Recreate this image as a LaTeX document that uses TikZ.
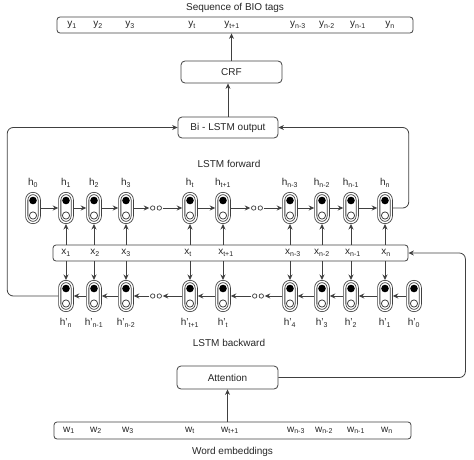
\documentclass[tikz,border=0pt]{standalone}
\usepackage{fontspec}
\setmainfont{Liberation Sans}
\usepackage{xcolor}
\usepackage{tikz}
\usetikzlibrary{positioning,arrows.meta}

\begin{document}
\begin{tikzpicture}[x=1pt, y=-1pt, font=\fontsize{10}{12}\selectfont, text=black!85,
  bar/.style={draw=black!75, line width=0.8pt, rounded corners=3pt, minimum height=16pt, inner sep=0pt},
  box/.style={draw=black!75, line width=0.8pt, rounded corners=4pt, minimum width=101pt, minimum height=22pt, inner sep=0pt},
  cell/.style={draw=black!75, line width=0.8pt, double, double distance=1.4pt, rounded corners=6.25pt, minimum width=12.5pt, minimum height=29pt, inner sep=0pt, outer sep=1.5pt,
    path picture={\fill[black] ([yshift=7.5pt]path picture bounding box.center) circle (3.8pt);
      \draw[black!75, line width=0.8pt] ([yshift=-7.5pt]path picture bounding box.center) circle (3.6pt);}},
  fwd/.style={cell, label={[label distance=1pt]above:#1}},
  bwd/.style={cell, label={[label distance=3pt]below:#1}},
  skip/.style={minimum width=13pt, minimum height=6pt, inner sep=0pt,
    path picture={\draw[black!75, line width=0.7pt] ([xshift=-3.3pt]path picture bounding box.center) circle (2.2pt) ([xshift=3.3pt]path picture bounding box.center) circle (2.2pt);}},
  arr/.style={-{Stealth[length=5.5pt, width=5pt]}, draw=black!75, line width=0.8pt}]
\useasboundingbox (0,0) rectangle (474,460);
% output side
\node[bar, minimum width=356pt] (ybar) at (235,25) {};
\node[above=0pt of ybar] (seq) {Sequence of BIO tags};
\node (y1) at (72,25) {y\textsubscript{1}};
\node (y2) at (98,25) {y\textsubscript{2}};
\node (y3) at (130,25) {y\textsubscript{3}};
\node (yt) at (192,25) {y\textsubscript{t}};
\node (yt1) at (232,25) {y\textsubscript{t+1}};
\node (yn3) at (298,25) {y\textsubscript{n-3}};
\node (yn2) at (327,25) {y\textsubscript{n-2}};
\node (yn1) at (358,25) {y\textsubscript{n-1}};
\node (yn) at (390,25) {y\textsubscript{n}};
\node[box] (crf) at (231.5,72) {CRF};
\node[box, minimum width=100pt, minimum height=21pt] (bilstm) at (228,127.5) {Bi - LSTM output};
% forward LSTM
\node (fwdtxt) at (229,164) {LSTM forward};
\node[fwd={h\textsubscript{0}}] (h0) at (33,208) {};
\node[fwd={h\textsubscript{1}}] (h1) at (66,208) {};
\node[fwd={h\textsubscript{2}}] (h2) at (94,208) {};
\node[fwd={h\textsubscript{3}}] (h3) at (126,208) {};
\node[skip] (fs1) at (156,208) {};
\node[fwd={h\textsubscript{t}}] (ht) at (190,208) {};
\node[fwd={h\textsubscript{t+1}}] (ht1) at (223,208) {};
\node[skip] (fs2) at (257,208) {};
\node[fwd={h\textsubscript{n-3}}] (hn3) at (290,208) {};
\node[fwd={h\textsubscript{n-2}}] (hn2) at (322,208) {};
\node[fwd={h\textsubscript{n-1}}] (hn1) at (351,208) {};
\node[fwd={h\textsubscript{n}}] (hn) at (385,208) {};
% inputs
\node[bar, minimum width=355pt] (xbar) at (230.5,253) {};
\node (x1) at (66,253) {x\textsubscript{1}};
\node (x2) at (95,253) {x\textsubscript{2}};
\node (x3) at (126,253) {x\textsubscript{3}};
\node (xt) at (188,253) {x\textsubscript{t}};
\node (xt1) at (226,253) {x\textsubscript{t+1}};
\node (xn3) at (293,253) {x\textsubscript{n-3}};
\node (xn2) at (322,253) {x\textsubscript{n-2}};
\node (xn1) at (353,253) {x\textsubscript{n-1}};
\node (xn) at (386,253) {x\textsubscript{n}};
% backward LSTM
\node[bwd={h'\textsubscript{n}}] (bn) at (66,296) {};
\node[bwd={h'\textsubscript{n-1}}] (bn1) at (94,296) {};
\node[bwd={h'\textsubscript{n-2}}] (bn2) at (126,296) {};
\node[skip] (bs1) at (156,296) {};
\node[bwd={h'\textsubscript{t+1}}] (bt1) at (190,296) {};
\node[bwd={h'\textsubscript{t}}] (bt) at (223,296) {};
\node[skip] (bs2) at (258,296) {};
\node[bwd={h'\textsubscript{4}}] (b4) at (290,296) {};
\node[bwd={h'\textsubscript{3}}] (b3) at (322,296) {};
\node[bwd={h'\textsubscript{2}}] (b2) at (351,296) {};
\node[bwd={h'\textsubscript{1}}] (b1) at (385,296) {};
\node[bwd={h'\textsubscript{0}}] (b0) at (414,296) {};
\node (bwdtxt) at (229,343) {LSTM backward};
% embeddings
\node[box, minimum height=23pt] (att) at (227.5,377.5) {Attention};
\node[bar, minimum width=357pt, minimum height=17pt] (wbar) at (232.5,430.5) {};
\node[below=4pt of wbar] (emb) {Word embeddings};
\node (w1) at (69,430.5) {w\textsubscript{1}};
\node (w2) at (96,430.5) {w\textsubscript{2}};
\node (w3) at (128,430.5) {w\textsubscript{3}};
\node (wt) at (190,430.5) {w\textsubscript{t}};
\node (wt1) at (230,430.5) {w\textsubscript{t+1}};
\node (wn3) at (296,430.5) {w\textsubscript{n-3}};
\node (wn2) at (324,430.5) {w\textsubscript{n-2}};
\node (wn1) at (356,430.5) {w\textsubscript{n-1}};
\node (wn) at (387,430.5) {w\textsubscript{n}};
% connectors
\draw[arr] (crf) -- (crf |- ybar.south);
\draw[arr] (bilstm) -- (bilstm |- crf.south);
\draw[arr, rounded corners=6pt] (hn.east) -- ++(16,0) |- (bilstm.east);
\draw[arr, rounded corners=6pt] (bn.west) -- ++(-51,0) |- (bilstm.west);
\draw[arr] (h0) -- (h1);
\draw[arr] (h1) -- (h2);
\draw[arr] (h2) -- (h3);
\draw[arr] (h3) -- (fs1);
\draw[arr] (fs1) -- (ht);
\draw[arr] (ht) -- (ht1);
\draw[arr] (ht1) -- (fs2);
\draw[arr] (fs2) -- (hn3);
\draw[arr] (hn3) -- (hn2);
\draw[arr] (hn2) -- (hn1);
\draw[arr] (hn1) -- (hn);
\draw[arr] (h1 |- xbar.north) -- (h1);
\draw[arr] (h2 |- xbar.north) -- (h2);
\draw[arr] (h3 |- xbar.north) -- (h3);
\draw[arr] (ht |- xbar.north) -- (ht);
\draw[arr] (ht1 |- xbar.north) -- (ht1);
\draw[arr] (hn3 |- xbar.north) -- (hn3);
\draw[arr] (hn2 |- xbar.north) -- (hn2);
\draw[arr] (hn1 |- xbar.north) -- (hn1);
\draw[arr] (hn |- xbar.north) -- (hn);
\draw[arr] (bn |- xbar.south) -- (bn);
\draw[arr] (bn1 |- xbar.south) -- (bn1);
\draw[arr] (bn2 |- xbar.south) -- (bn2);
\draw[arr] (bt1 |- xbar.south) -- (bt1);
\draw[arr] (bt |- xbar.south) -- (bt);
\draw[arr] (b4 |- xbar.south) -- (b4);
\draw[arr] (b3 |- xbar.south) -- (b3);
\draw[arr] (b2 |- xbar.south) -- (b2);
\draw[arr] (b1 |- xbar.south) -- (b1);
\draw[arr] (b0) -- (b1);
\draw[arr] (b1) -- (b2);
\draw[arr] (b2) -- (b3);
\draw[arr] (b3) -- (b4);
\draw[arr] (b4) -- (bs2);
\draw[arr] (bs2) -- (bt);
\draw[arr] (bt) -- (bt1);
\draw[arr] (bt1) -- (bs1);
\draw[arr] (bs1) -- (bn2);
\draw[arr] (bn2) -- (bn1);
\draw[arr] (bn1) -- (bn);
\draw[arr] (att |- wbar.north) -- (att);
\draw[arr, rounded corners=6pt] (att.east) -- ++(187,0) |- (xbar.east);
\end{tikzpicture}
\end{document}
